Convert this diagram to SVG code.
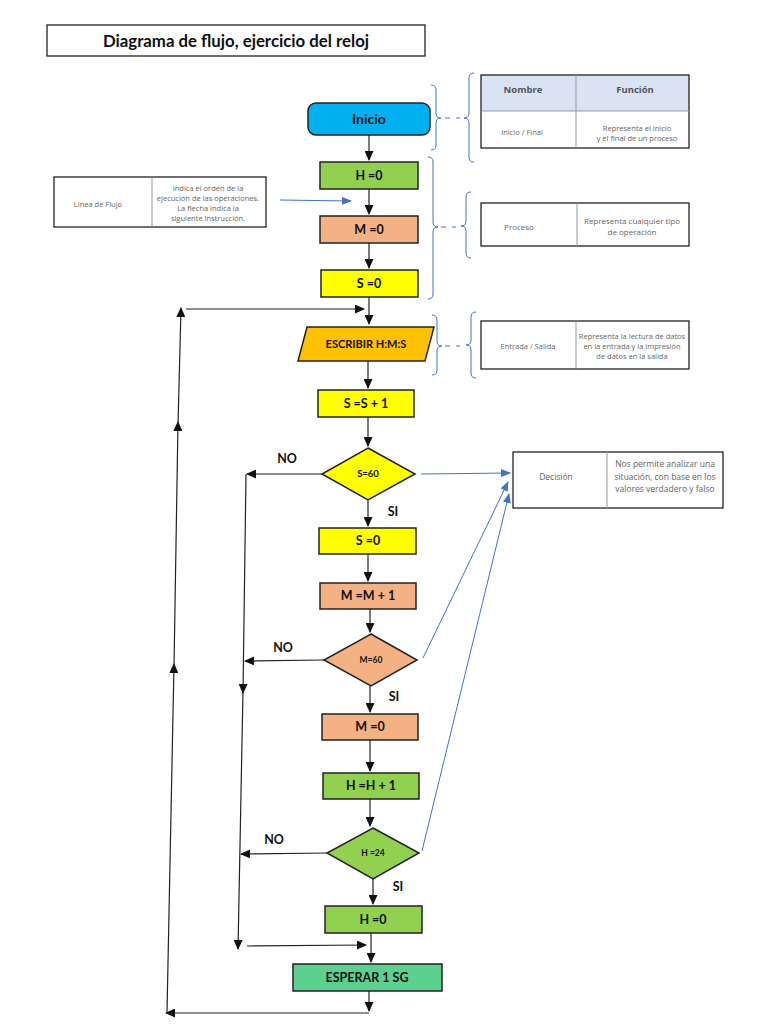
<svg xmlns="http://www.w3.org/2000/svg" width="768" height="1024" viewBox="0 0 768 1024">
<defs>
<marker id="ah" markerUnits="userSpaceOnUse" markerWidth="10" markerHeight="9" refX="9" refY="4.5" orient="auto"><path d="M0,0 L10,4.5 L0,9 z" fill="#111"/></marker>
<marker id="ahb" markerUnits="userSpaceOnUse" markerWidth="10" markerHeight="8" refX="9" refY="4" orient="auto"><path d="M0,0 L10,4 L0,8 z" fill="#4472c4"/></marker>
<style>
.nd{stroke:#222;stroke-width:1.5}
.nt{font-family:Lato,"Liberation Sans",sans-serif;font-weight:bold;font-size:12.5px;fill:#111;text-anchor:middle}
.lb{font-family:Lato,"Liberation Sans",sans-serif;font-weight:bold;font-size:12.5px;fill:#111;text-anchor:middle}
.cn{stroke:#222;stroke-width:1.2;fill:none}
.cb{stroke:#4472c4;stroke-width:1;fill:none}
.br{stroke:#4472c4;stroke-width:1;fill:none}
.tb{fill:#fff;stroke:#222;stroke-width:1.3}
.dv{stroke:#999;stroke-width:1}
.lt{font-family:"Open Sans","Noto Sans",sans-serif;font-size:7.5px;fill:#666;text-anchor:middle}
.lh{font-family:"Open Sans","Noto Sans",sans-serif;font-size:9.5px;font-weight:bold;fill:#555;text-anchor:middle}
.sm{font-size:9.5px}
.xs{font-size:8.5px}
.dl{font-size:8.5px}
</style>
</defs>
<rect width="768" height="1024" fill="#fff"/>

<g id="title">
<rect x="47" y="25" width="378" height="31" fill="#fff" stroke="#222" stroke-width="1.3"/>
<text x="236" y="47" font-family="Lato,'Liberation Sans',sans-serif" font-weight="bold" font-size="16.8" text-anchor="middle" fill="#111">Diagrama de flujo, ejercicio del reloj</text>
</g>

<g id="inicio">
<rect class="nd" x="308" y="103" width="122" height="32" rx="8" fill="#00b0f0"/>
<text class="nt" x="369" y="124" style="font-size:14px">Inicio</text>
</g>
<g id="h0a"><rect class="nd" x="320" y="162" width="98" height="27" fill="#92d050"/><text class="nt" x="369" y="180">H =0</text></g>
<g id="m0a"><rect class="nd" x="320" y="216" width="98" height="27" fill="#f4b183"/><text class="nt" x="369" y="234">M =0</text></g>
<g id="s0a"><rect class="nd" x="321" y="270" width="97" height="27" fill="#ffff00"/><text class="nt" x="369" y="288">S =0</text></g>
<g id="escribir"><polygon class="nd" points="307,327 434,327 425,361 298,361" fill="#ffc000"/><text class="nt" x="366" y="348" style="font-size:11px">ESCRIBIR H:M:S</text></g>
<g id="ss1"><rect class="nd" x="318" y="390" width="96" height="27" fill="#ffff00"/><text class="nt" x="366" y="408">S =S + 1</text></g>
<g id="d_s60"><polygon class="nd" points="368,448 415,474 368,500 322,474" fill="#ffff00"/><text class="nt" x="368" y="477" style="font-size:9.5px">S=60</text></g>
<g id="s0b"><rect class="nd" x="319" y="528" width="97" height="26" fill="#ffff00"/><text class="nt" x="368" y="545">S =0</text></g>
<g id="mm1"><rect class="nd" x="320" y="583" width="96" height="26" fill="#f4b183"/><text class="nt" x="368" y="600">M =M + 1</text></g>
<g id="d_m60"><polygon class="nd" points="371,634 417,660 371,686 324,660" fill="#f4b183"/><text class="nt" x="371" y="663" style="font-size:8.5px">M=60</text></g>
<g id="m0b"><rect class="nd" x="322" y="714" width="96" height="26" fill="#f4b183"/><text class="nt" x="370" y="731">M =0</text></g>
<g id="hh1"><rect class="nd" x="323" y="773" width="96" height="26" fill="#92d050"/><text class="nt" x="371" y="790">H =H + 1</text></g>
<g id="d_h24"><polygon class="nd" points="373,828 419,853 373,879 327,853" fill="#92d050"/><text class="nt" x="373" y="856" style="font-size:8.5px">H =24</text></g>
<g id="h0b"><rect class="nd" x="325" y="906" width="97" height="27" fill="#92d050"/><text class="nt" x="373" y="924">H =0</text></g>
<g id="esperar"><rect class="nd" x="293" y="964" width="149" height="27" fill="#5cd08f"/><text class="nt" x="367" y="982">ESPERAR 1 SG</text></g>

<g id="connectors">
<line class="cn" x1="369" y1="135" x2="369" y2="160" marker-end="url(#ah)"/>
<line class="cn" x1="369" y1="189" x2="369" y2="214" marker-end="url(#ah)"/>
<line class="cn" x1="369" y1="243" x2="369" y2="268" marker-end="url(#ah)"/>
<line class="cn" x1="369" y1="297" x2="369" y2="324" marker-end="url(#ah)"/>
<line class="cn" x1="368" y1="361" x2="368" y2="388" marker-end="url(#ah)"/>
<line class="cn" x1="368" y1="417" x2="368" y2="446" marker-end="url(#ah)"/>
<line class="cn" x1="368" y1="500" x2="368" y2="526" marker-end="url(#ah)"/>
<line class="cn" x1="368" y1="554" x2="368" y2="581" marker-end="url(#ah)"/>
<line class="cn" x1="370" y1="609" x2="370" y2="632" marker-end="url(#ah)"/>
<line class="cn" x1="370" y1="686" x2="370" y2="712" marker-end="url(#ah)"/>
<line class="cn" x1="370" y1="740" x2="370" y2="771" marker-end="url(#ah)"/>
<line class="cn" x1="370" y1="799" x2="370" y2="826" marker-end="url(#ah)"/>
<line class="cn" x1="373" y1="879" x2="373" y2="904" marker-end="url(#ah)"/>
<line class="cn" x1="371" y1="933" x2="371" y2="962" marker-end="url(#ah)"/>
<line class="cn" x1="369" y1="991" x2="369" y2="1011" marker-end="url(#ah)"/>
<line class="cn" x1="322" y1="474" x2="247" y2="474" marker-end="url(#ah)"/>
<line class="cn" x1="324" y1="660" x2="245" y2="661" marker-end="url(#ah)"/>
<line class="cn" x1="327" y1="853" x2="241" y2="854" marker-end="url(#ah)"/>
<line class="cn" x1="246" y1="474" x2="243" y2="693" marker-end="url(#ah)"/>
<line class="cn" x1="243" y1="690" x2="238" y2="949" marker-end="url(#ah)"/>
<line class="cn" x1="247" y1="946" x2="366" y2="945" marker-end="url(#ah)"/>
<line class="cn" x1="369" y1="1013" x2="166" y2="1013" marker-end="url(#ah)"/>
<line class="cn" x1="167" y1="1013" x2="174" y2="664" marker-end="url(#ah)"/>
<line class="cn" x1="174" y1="667" x2="178" y2="422" marker-end="url(#ah)"/>
<line class="cn" x1="178" y1="425" x2="181" y2="308" marker-end="url(#ah)"/>
<line class="cn" x1="186" y1="309" x2="364" y2="309" marker-end="url(#ah)"/>
<line class="cb" x1="280" y1="200" x2="351" y2="201" marker-end="url(#ahb)"/>
<line class="cb" x1="421" y1="474" x2="510" y2="473" marker-end="url(#ahb)"/>
<line class="cb" x1="423" y1="658" x2="508" y2="482" marker-end="url(#ahb)"/>
<line class="cb" x1="422" y1="851" x2="509" y2="494" marker-end="url(#ahb)"/>
</g>

<g id="labels">
<text class="lb" x="287" y="463">NO</text>
<text class="lb" x="393" y="516">SI</text>
<text class="lb" x="283" y="652">NO</text>
<text class="lb" x="394" y="701">SI</text>
<text class="lb" x="274" y="844">NO</text>
<text class="lb" x="398" y="891">SI</text>
</g>

<g id="braces">
<path class="br" d="M431,85 q5,0 5,5 V113 q0,5 5,5 q-5,0 -5,5 V145 q0,5 -5,5"/>
<path class="br" d="M445,118 h5 M456,118 h4"/>
<path class="br" d="M474,73 q-5,0 -5,5 V113 q0,5 -5,5 q5,0 5,5 V157 q0,5 5,5"/>
<path class="br" d="M428,157 q5,0 5,5 V222 q0,5 5,5 q-5,0 -5,5 V294 q0,5 -5,5"/>
<path class="br" d="M441,227 h5 M452,227 h4"/>
<path class="br" d="M471,192 q-5,0 -5,5 V221 q0,5 -5,5 q5,0 5,5 V253 q0,5 5,5"/>
<path class="br" d="M432,315 q5,0 5,5 V341 q0,5 5,5 q-5,0 -5,5 V370 q0,5 -5,5"/>
<path class="br" d="M445,346 h5 M456,346 h4"/>
<path class="br" d="M476,312 q-5,0 -5,5 V340 q0,5 -5,5 q5,0 5,5 V373 q0,5 5,5"/>
</g>

<g id="leg_inicio">
<rect x="481" y="75" width="208" height="36" fill="#dae3f3"/>
<rect class="tb" x="481" y="75" width="208" height="73" fill="none" style="fill:none"/>
<line class="dv" x1="481" y1="111" x2="689" y2="111"/>
<line class="dv" x1="576" y1="75" x2="576" y2="148"/>
<text class="lh" x="523" y="93">Nombre</text>
<text class="lh" x="635" y="93">Función</text>
<text class="lt" x="522" y="135">Inicio / Final</text>
<text class="lt" x="637" y="131">Representa el inicio</text>
<text class="lt" x="637" y="141">y el final de un proceso</text>
</g>

<g id="leg_flujo">
<rect class="tb" x="54" y="177" width="212" height="50"/>
<line class="dv" x1="152" y1="177" x2="152" y2="227"/>
<text class="lt" x="98" y="207">Linea de Flujo</text>
<text class="lt" x="208" y="191">Indica el orden de la</text>
<text class="lt" x="208" y="201">ejecución de las operaciones.</text>
<text class="lt" x="208" y="211">La flecha indica la</text>
<text class="lt" x="208" y="221">siguiente instrucción.</text>
</g>

<g id="leg_proceso">
<rect class="tb" x="481" y="203" width="208" height="43"/>
<line class="dv" x1="577" y1="203" x2="577" y2="246"/>
<text class="lt" x="519" y="230" style="font-size:8px">Proceso</text>
<text class="lt" x="632" y="224" style="font-size:8px">Representa cualquier tipo</text>
<text class="lt" x="632" y="235" style="font-size:8px">de operación</text>
</g>

<g id="leg_es">
<rect class="tb" x="481" y="321" width="208" height="48"/>
<line class="dv" x1="576" y1="321" x2="576" y2="369"/>
<text class="lt" x="528" y="349">Entrada / Salida</text>
<text class="lt" x="632" y="339">Representa la lectura de datos</text>
<text class="lt" x="632" y="349">en la entrada y la impresión</text>
<text class="lt" x="632" y="359">de datos en la salida</text>
</g>

<g id="leg_decision">
<rect class="tb" x="513" y="452" width="210" height="56"/>
<line class="dv" x1="607" y1="452" x2="607" y2="508"/>
<text class="lt" x="556" y="480" style="font-size:8.5px">Decisión</text>
<text class="lt" x="665" y="467" style="font-size:8.5px">Nos permite analizar una</text>
<text class="lt" x="665" y="480" style="font-size:8.5px">situación, con base en los</text>
<text class="lt" x="665" y="492" style="font-size:8.5px">valores verdadero y falso</text>
</g>
</svg>
